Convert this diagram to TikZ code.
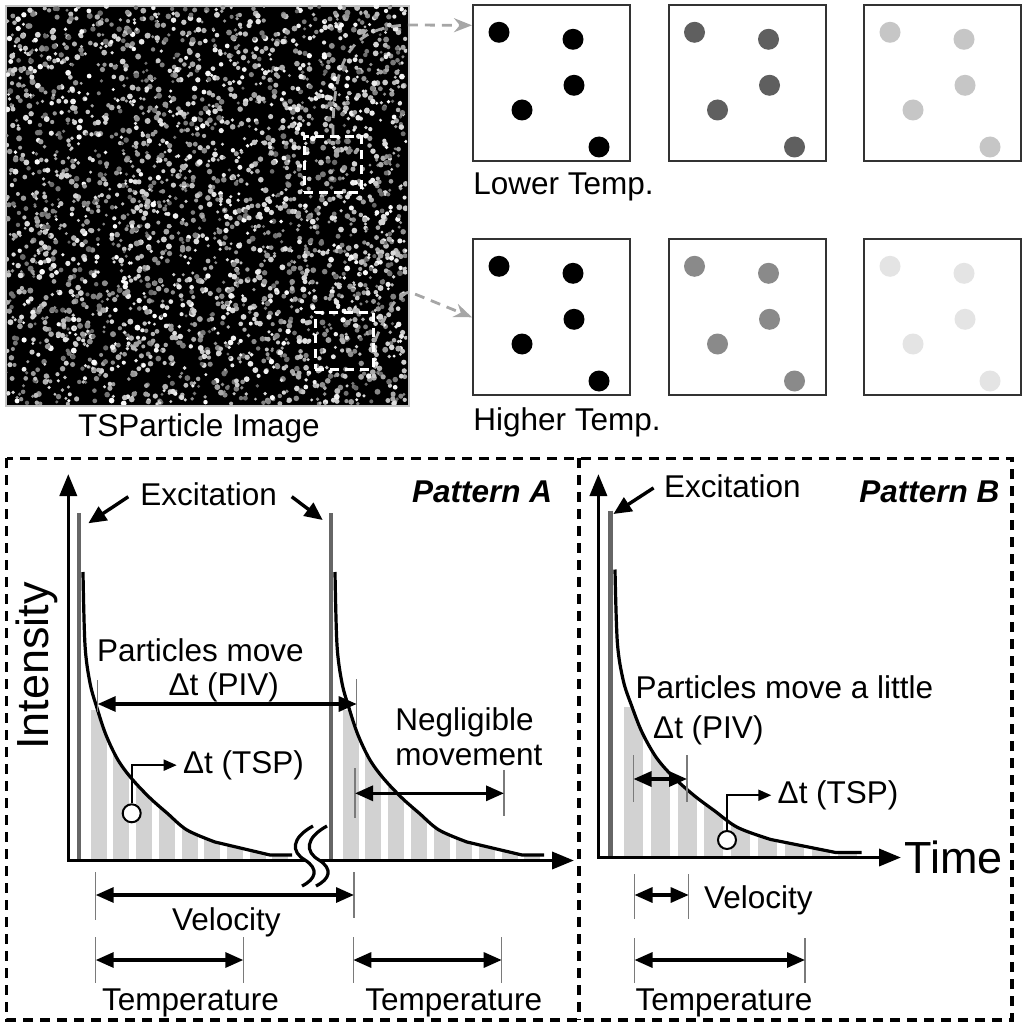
\documentclass[tikz,border=0pt]{standalone}
\usepackage{fontspec}
\setmainfont{Liberation Sans}
\usetikzlibrary{arrows.meta,
                positioning, % For easy node-relative placements
               }

\definecolor{stripegray}{HTML}{D2D2D2}
\definecolor{bargray}{HTML}{666666}
\definecolor{tickgray}{HTML}{7A7A7A}
\definecolor{linkgray}{HTML}{A6A6A6}
\definecolor{framegray}{HTML}{333333}
\definecolor{imgborder}{HTML}{C4C4C4}
\definecolor{lowmid}{HTML}{5F5F5F}
\definecolor{lowlight}{HTML}{C6C6C6}
\definecolor{highmid}{HTML}{8A8A8A}
\definecolor{highlight}{HTML}{E4E4E4}

\tikzstyle{txt} = [inner sep=0pt, anchor=base west, font=\fontsize{15.75}{18}\selectfont]
\tikzstyle{pattxt} = [txt, font=\fontsize{15.75}{18}\selectfont\bfseries\itshape]
\tikzstyle{bigtxt} = [inner sep=0pt, anchor=base west, font=\fontsize{22.5}{26}\selectfont]
\tikzstyle{panel} = [draw=framegray, line width=1pt, fill=white, minimum width=78.5pt, minimum height=78pt, inner sep=0pt, anchor=north west]
\tikzstyle{zoombox} = [draw=white, line width=1.4pt, dash pattern=on 4.5pt off 3pt, inner sep=0pt, anchor=north west]
\tikzstyle{link} = [draw=linkgray, line width=1.4pt, dash pattern=on 5pt off 3.5pt, -{Stealth[length=9pt,width=7pt,fill=linkgray]}]
\tikzstyle{axis} = [line width=1.8pt, line join=miter, {Triangle[length=11pt,width=8.5pt]}-{Triangle[length=11pt,width=8.5pt]}]
\tikzstyle{dim} = [line width=1.6pt, {Triangle[length=9pt,width=7.5pt]}-{Triangle[length=9pt,width=7.5pt]}]
\tikzstyle{tick} = [draw=tickgray, line width=0.7pt]
\tikzstyle{exarrow} = [line width=1.7pt, -{Triangle[length=9pt,width=8pt]}]
\tikzstyle{pointer} = [line width=1pt, -{Triangle[length=6.5pt,width=5.5pt]}, shorten >=3pt]
\tikzstyle{tspmark} = [circle, draw, line width=1pt, fill=white, minimum size=9pt, inner sep=0pt]
\tikzstyle{curve} = [line width=1.6pt, line join=round]
\tikzstyle{frame} = [line width=1.6pt, dash pattern=on 5pt off 3.5pt]

\tikzset{
  decay/.pic={
    \begin{scope}
      \clip (0,-150) rectangle (215,0);
      \clip plot[smooth,tension=0.55] coordinates {(0,-288) (2,-215) (7,-177) (14,-152) (23,-125) (35,-100) (49,-81) (67,-62) (84,-47) (104,-30) (132,-18)} -- (187,-5) -- (209,-5) -- (209,0) -- (0,0) -- cycle;
      \foreach \k in {0,...,8} \fill[stripegray] ({7.7+22.7*\k},-160) rectangle ++(16,160);
    \end{scope}
    \draw[bargray, line width=2.4pt] (-4,-347) -- (-4,0);
    \draw[curve] plot[smooth,tension=0.55] coordinates {(0,-288) (2,-215) (7,-177) (14,-152) (23,-125) (35,-100) (49,-81) (67,-62) (84,-47) (104,-30) (132,-18)} -- (187,-5) -- (209,-5);
  },
  brk/.pic={
    \fill[white] (0,0) .. controls (-22,12) and (-22,26) .. (-8,34) .. controls (6,43) and (3,53) .. (-11,60) -- (3,60) .. controls (17,53) and (20,43) .. (6,34) .. controls (-8,26) and (-8,12) .. (14,0) -- cycle;
    \draw[curve] (0,0) .. controls (-22,12) and (-22,26) .. (-8,34) .. controls (6,43) and (3,53) .. (-11,60);
    \draw[curve] (14,0) .. controls (-8,12) and (-8,26) .. (6,34) .. controls (20,43) and (17,53) .. (3,60);
  }
}

\begin{document}
\begin{tikzpicture}[x=0.5pt, y=-0.5pt]
  \useasboundingbox (0,0) rectangle (1025,1027);

  % particle image
  \node[draw=imgborder, line width=1pt, fill=black, minimum width=201.5pt, minimum height=200pt, inner sep=0pt, anchor=north west] (tspimg) at (5,5) {};
  \begin{scope}
    \clip (6,6) rectangle (407,404);
    \pgfmathsetseed{4711}
    \foreach \i in {1,...,3000} {
      \pgfmathsetmacro{\px}{6+401*rnd}
      \pgfmathsetmacro{\py}{6+398*rnd}
      \pgfmathsetmacro{\pr}{1.5+1.5*rnd}
      \pgfmathtruncatemacro{\pg}{40+60*rnd}
      \fill[white!\pg!black] (\px,\py) circle (\pr);
    }
  \end{scope}
  \node[zoombox, minimum width=28.5pt, minimum height=28pt] (zoomA) at (303,135) {};
  \node[zoombox, minimum width=29pt, minimum height=28.5pt] (zoomB) at (314,311) {};
  \node[txt, anchor=base] (imgcap) at (199,436.7) {TSParticle Image};

  % temperature panels
  \foreach \n/\px/\col in {1/472/black, 2/667.5/lowmid, 3/863/lowlight} {
    \node[panel] (lo\n) at (\px,4.3) {};
    \foreach \dx/\dy in {27/28, 101/35, 102/81, 50/105.7, 127/142.7}
      \fill[\col] (\px+\dx,4.3+\dy) circle (10.5);
  }
  \foreach \n/\px/\col in {1/472/black, 2/667.5/highmid, 3/863/highlight} {
    \node[panel] (hi\n) at (\px,238.3) {};
    \foreach \dx/\dy in {27/28, 101/35, 102/81, 50/105.7, 127/142.7}
      \fill[\col] (\px+\dx,238.3+\dy) circle (10.5);
  }
  \node[txt] (lowcap) at (473,195) {Lower Temp.};
  \node[txt] (highcap) at (473,430) {Higher Temp.};

  \draw[link] (zoomA.north) .. controls (333,60) and (350,27) .. (408,25) -- ([yshift=-10.5pt]lo1.north west);
  \draw[link] (zoomB.east) .. controls (385,318) and (393,295) .. (410,292) -- (hi1.west);

  % dashed frames
  \draw[frame] (6.7,458.3) rectangle (1012,1020);
  \draw[frame] (579,458.3) -- (579,1020);

  % decay curves
  \pic at (83,860) {decay};
  \pic at (335,860) {decay};
  \pic[xscale=1.18] at (615,857.5) {decay};

  % axes
  \coordinate (yA) at (68.3,474);
  \coordinate (xA) at (574,860.5);
  \draw[axis] (yA) |- (xA);
  \coordinate (yB) at (598.4,474);
  \coordinate (xB) at (901,857.5);
  \draw[axis] (yB) |- (xB);
  \pic at (313,826) {brk};

  \node[bigtxt, anchor=base, rotate=90] (intens) at (48,666) {Intensity};
  \node[bigtxt] (timeB) at (904,873) {Time};

  % pattern A
  \node[pattxt] (patA) at (411.7,502.3) {Pattern A};
  \node[txt] (excA) at (140,505) {Excitation};
  \coordinate (exA1) at (128.3,496.7);
  \coordinate (barA1) at (88.3,523.3);
  \coordinate (exA2) at (291.7,496.7);
  \coordinate (barA2) at (322.7,520);
  \draw[exarrow] (exA1) -- (barA1);
  \draw[exarrow] (exA2) -- (barA2);

  \node[txt] (moveA) at (96.7,661.7) {Particles move};
  \node[txt] (pivA) at (168.3,695) {Δt (PIV)};
  \node[txt] (neglA) at (395,730) {Negligible};
  \node[txt] (neglB) at (395,765) {movement};
  \node[txt] (tspA) at (182.7,773.3) {Δt (TSP)};
  \node[tspmark] (markA) at (131.7,813.3) {};
  \draw[pointer] (markA.north) |- (tspA.west);
  \node[txt] (velA) at (171.7,930) {Velocity};
  \node[txt] (tempA1) at (101.7,1010) {Temperature};
  \node[txt] (tempA2) at (365,1010) {Temperature};

  % pattern B
  \node[pattxt] (patB) at (859,502.8) {Pattern B};
  \node[txt] (excB) at (663.6,497) {Excitation};
  \coordinate (exB) at (653.6,487.9);
  \coordinate (barB) at (613.4,514);
  \draw[exarrow] (exB) -- (barB);
  \node[txt] (moveB) at (635.2,698.8) {Particles move a little};
  \node[txt] (pivB) at (652.8,738) {Δt (PIV)};
  \node[txt] (tspB) at (777.3,803.4) {Δt (TSP)};
  \node[tspmark] (markB) at (727,840) {};
  \draw[pointer] (markB.north) |- (tspB.west);
  \node[txt] (velB) at (703.7,908) {Velocity};
  \node[txt] (tempB) at (635.2,1010.6) {Temperature};

  % ticks
  \foreach \tx/\ta/\tb in {97.7/680/712, 356.7/679/726, 355/768/818, 504/770/816,
                           95.7/872/920, 354/872/918, 95.7/937/983, 243.3/937/983,
                           353.3/937/983, 501.7/937/983,
                           633.5/755/801.5, 687/755/801.5, 634.5/874/919, 688.7/874/919,
                           634.5/938/983, 805/938/983}
    \draw[tick] (\tx,\ta) -- (\tx,\tb);

  % dimension arrows
  \coordinate (pivA1) at (97.7,704);   \coordinate (pivA2) at (356.7,704);
  \coordinate (negA1) at (355,793.3);  \coordinate (negA2) at (504,793.3);
  \coordinate (velA1) at (95.7,895);   \coordinate (velA2) at (354,895);
  \coordinate (tmpA1) at (95.7,960);   \coordinate (tmpA2) at (243.3,960);
  \coordinate (tmpA3) at (353.3,960);  \coordinate (tmpA4) at (501.7,960);
  \coordinate (pivB1) at (633.5,779);  \coordinate (pivB2) at (687,779);
  \coordinate (velB1) at (634.5,895);  \coordinate (velB2) at (688.7,895);
  \coordinate (tmpB1) at (634.5,960);  \coordinate (tmpB2) at (805,960);
  \draw[dim] (pivA1) -- (pivA2);
  \draw[dim] (negA1) -- (negA2);
  \draw[dim] (velA1) -- (velA2);
  \draw[dim] (tmpA1) -- (tmpA2);
  \draw[dim] (tmpA3) -- (tmpA4);
  \draw[dim] (pivB1) -- (pivB2);
  \draw[dim] (velB1) -- (velB2);
  \draw[dim] (tmpB1) -- (tmpB2);
\end{tikzpicture}
\end{document}
